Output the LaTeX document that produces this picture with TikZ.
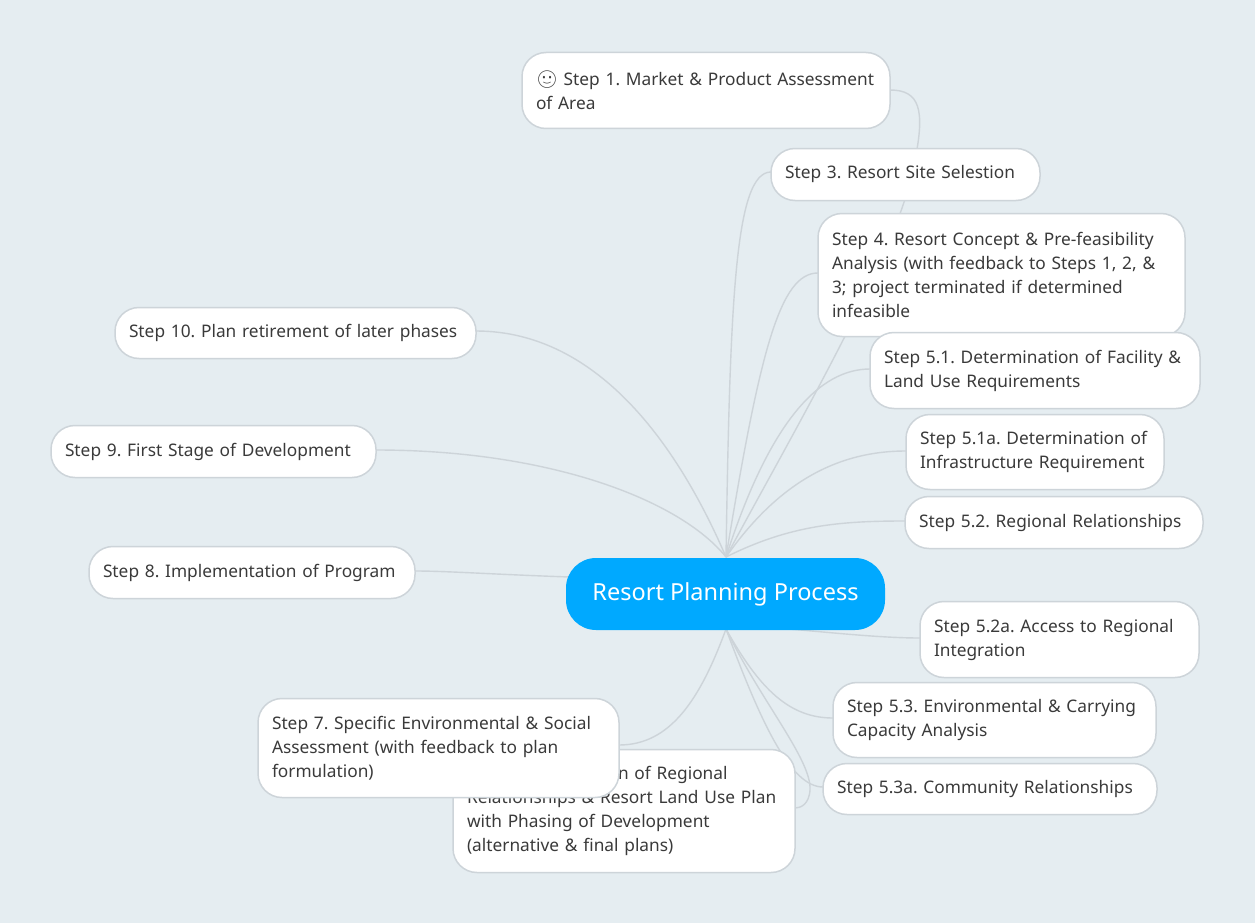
\documentclass[tikz,border=0pt]{standalone}
\usepackage{fontspec}
\setmainfont{Noto Sans}
\newfontfamily\emo{Noto Emoji}
\frenchspacing
\definecolor{bg}{HTML}{E5EDF1}
\definecolor{ln}{HTML}{CDD4D9}
\definecolor{tx}{HTML}{3A3A3A}
\definecolor{ctr}{HTML}{00A9FF}
\begin{document}
\begin{tikzpicture}[x=1pt,y=-1pt,
  box/.style={draw=ln,line width=1.5pt,fill=white,rounded corners=24pt,text=tx,
    font=\fontsize{17.3}{24}\selectfont,align=left,inner sep=0pt},
  edge/.style={draw=ln,line width=1.4pt}]
\fill[bg] (0,0) rectangle (1255,923);
\newcommand\bx[6]{\node[box,minimum width=#4-#2,minimum height=#5-#3,text width=#4-#2-28] (#1) at ({(#2+#4)/2},{(#3+#5)/2+1.5}) {#6};}
% edges
\coordinate (ct) at (726,557);
\coordinate (cb) at (726,629);
\draw[edge] (ct) .. controls (730,300) and (735,172) .. (771,172);
\draw[edge] (ct) .. controls (760,350) and (780,273) .. (818,273);
\draw[edge] (ct) .. controls (770,420) and (820,369) .. (870,369);
\draw[edge] (ct) .. controls (780,480) and (840,451) .. (906,451);
\draw[edge] (ct) .. controls (790,525) and (840,521) .. (905,521);
\draw[edge] (cb) .. controls (740,620) and (850,638) .. (920,638);
\draw[edge] (cb) .. controls (760,690) and (790,718) .. (833,718);
\draw[edge] (cb) .. controls (760,720) and (790,787) .. (823,787);
\draw[edge] (ct) .. controls (680,450) and (600,331) .. (476,331);
\draw[edge] (ct) .. controls (680,500) and (550,450) .. (376,450);
\draw[edge] (600,578) .. controls (500,575) and (450,571) .. (415,571);
\draw[edge] (cb) .. controls (700,700) and (670,745) .. (619,745);
\draw[edge] (ct) .. controls (800,420) and (900,250) .. (915,160) .. controls (925,110) and (920,90) .. (890,90);
\draw[edge] (cb) .. controls (760,700) and (812,760) .. (810,790) .. controls (809,805) and (800,808) .. (795,808);
% nodes
\bx{s1}{522}{51}{890}{127}{{\emo 🙂} Step 1. Market \& Product Assessment\\of Area}
\bx{s3}{771}{147}{1040}{199}{Step 3. Resort Site Selestion}
\bx{s4}{818}{212}{1185}{335}{Step 4. Resort Concept \& Pre-feasibility\\Analysis (with feedback to Steps 1, 2, \&\\3; project terminated if determined\\infeasible}
\bx{s51}{870}{331}{1200}{407}{Step 5.1. Determination of Facility \&\\Land Use Requirements}
\bx{s51a}{906}{413}{1164}{488}{Step 5.1a. Determination of\\Infrastructure Requirement}
\bx{s52}{905}{495}{1203}{547}{Step 5.2. Regional Relationships}
\node[fill=ctr,rounded corners=30pt,minimum width=319pt,minimum height=72pt,text=white,font=\fontsize{23.5}{28}\selectfont] (c) at (725.5,594) {Resort Planning Process};
\bx{s52a}{920}{600}{1199}{676}{Step 5.2a. Access to Regional\\Integration}
\bx{s53}{833}{681}{1156}{756}{Step 5.3. Environmental \& Carrying\\Capacity Analysis}
\bx{s53a}{823}{762}{1157}{813}{Step 5.3a. Community Relationships}
\bx{s6}{453}{748}{795}{871}{Step 6. Formulation of Regional\\Relationships \& Resort Land Use Plan\\with Phasing of Development\\(alternative \& final plans)}
\bx{s7}{258}{697}{619}{796}{Step 7. Specific Environmental \& Social\\Assessment (with feedback to plan\\formulation)}
\bx{s8}{89}{545}{415}{597}{Step 8. Implementation of Program}
\bx{s9}{51}{424}{376}{476}{Step 9. First Stage of Development}
\bx{s10}{115}{306}{476}{357}{Step 10. Plan retirement of later phases}
\end{tikzpicture}
\end{document}
